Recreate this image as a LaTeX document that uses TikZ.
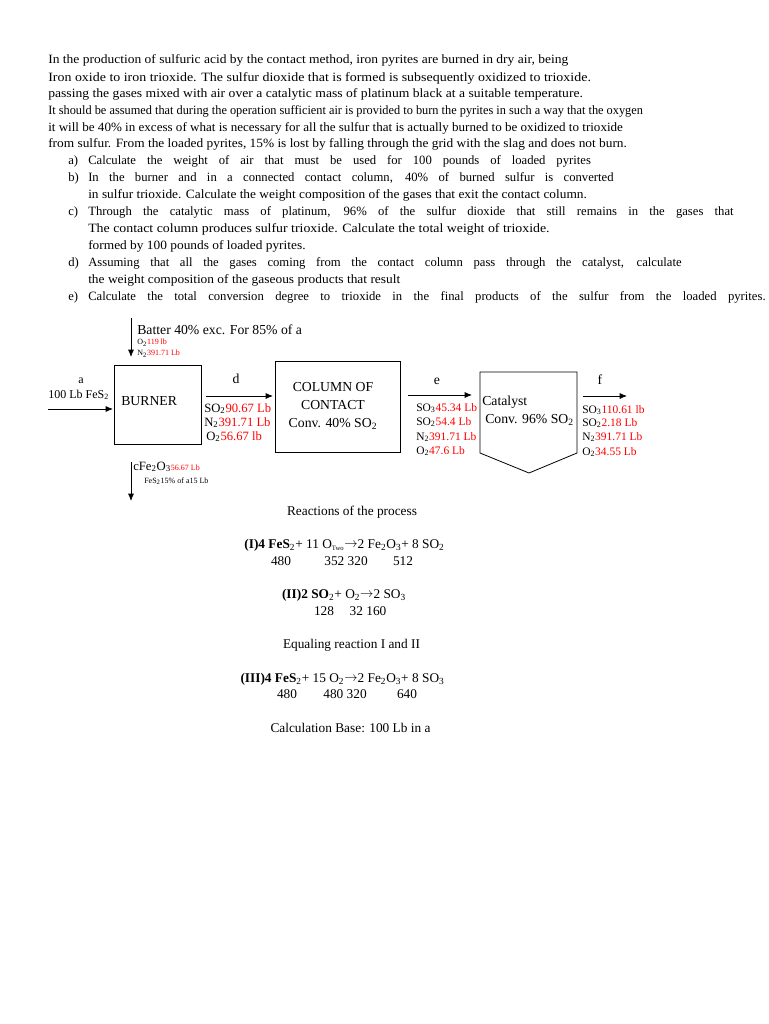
\documentclass[tikz,border=0pt]{standalone}
\usepackage{fontspec}
\setmainfont{Liberation Serif}
\usepackage{graphicx}
\usetikzlibrary{arrows.meta}
\newcommand\sub[1]{\textsubscript{#1}}
\newcommand\rd[1]{\textcolor{red}{#1}}
\newcommand\rarr{\raisebox{0.1ex}{$\rightarrow$}}
\newcommand\pfont{\fontsize{9.5}{11}\selectfont}
\newcommand\dfont{\fontsize{10.3}{12}\selectfont}
\newcommand\rfont{\fontsize{10}{12}\selectfont}
\newcommand\lfont{\fontsize{9.5}{11}\selectfont}
\newcommand\efont{\fontsize{8.6}{10}\selectfont}
\newcommand\afont{\fontsize{9}{10}\selectfont}
\newcommand\tfont{\fontsize{6}{7}\selectfont}
\begin{document}
\begin{tikzpicture}[x=0.75pt,y=-0.75pt,
  txt/.style={anchor=base west,inner sep=0pt,font=\pfont},
  dtxt/.style={anchor=base west,inner sep=0pt,font=\dfont},
  ltxt/.style={anchor=base west,inner sep=0pt,font=\lfont},
  etxt/.style={anchor=base west,inner sep=0pt,font=\efont},
  ctxt/.style={anchor=base,inner sep=0pt,font=\dfont},
  rtxt/.style={anchor=base,inner sep=0pt,font=\rfont},
  ttxt/.style={anchor=base west,inner sep=0pt,font=\tfont},
  flow/.style={-{Latex[length=5.5pt,width=4.5pt]},line width=0.6pt},
  box/.style={draw,line width=0.6pt,inner sep=0pt}]
\useasboundingbox (0,0) rectangle (768,1024);
\fill[white] (0,0) rectangle (768,1024);
% problem text
\node[txt] (l1) at (48,64) {\resizebox{390pt}{\height}{In the production of sulfuric acid by the contact method, iron pyrites are burned in dry air, being}};
\node[txt] (l2) at (48,81) {\resizebox{407pt}{\height}{Iron oxide to iron trioxide. The sulfur dioxide that is formed is subsequently oxidized to trioxide.}};
\node[txt] (l3) at (48,98) {\resizebox{401pt}{\height}{passing the gases mixed with air over a catalytic mass of platinum black at a suitable temperature.}};
\node[txt] (l4) at (48,114) {\resizebox{446pt}{\height}{It should be assumed that during the operation sufficient air is provided to burn the pyrites in such a way that the oxygen}};
\node[txt] (l5) at (48,131) {\resizebox{431pt}{\height}{it will be 40\% in excess of what is necessary for all the sulfur that is actually burned to be oxidized to trioxide}};
\node[txt] (l6) at (48,147) {\resizebox{434pt}{\height}{from sulfur. From the loaded pyrites, 15\% is lost by falling through the grid with the slag and does not burn.}};
\node[txt] (ia) at (68,164) {a)};
\node[txt] (l7) at (88,164) {\makebox[377pt][s]{Calculate the weight of air that must be used for 100 pounds of loaded pyrites}};
\node[txt] (ib) at (68,181) {b)};
\node[txt] (l8) at (88,181) {\makebox[394pt][s]{In the burner and in a connected contact column, 40\% of burned sulfur is converted}};
\node[txt] (l9) at (88,198) {\resizebox{374pt}{\height}{in sulfur trioxide. Calculate the weight composition of the gases that exit the contact column.}};
\node[txt] (ic) at (68,215) {c)};
\node[txt] (l10) at (88,215) {\makebox[484pt][s]{Through the catalytic mass of platinum, 96\% of the sulfur dioxide that still remains in the gases that}};
\node[txt] (l11) at (88,232) {\resizebox{346pt}{\height}{The contact column produces sulfur trioxide. Calculate the total weight of trioxide.}};
\node[txt] (l12) at (88,249) {\resizebox{163pt}{\height}{formed by 100 pounds of loaded pyrites.}};
\node[txt] (id) at (68,266) {d)};
\node[txt] (l13) at (88,266) {\makebox[445pt][s]{Assuming that all the gases coming from the contact column pass through the catalyst, calculate}};
\node[txt] (l14) at (88,283) {\resizebox{234pt}{\height}{the weight composition of the gaseous products that result}};
\node[txt] (ie) at (68,300) {e)};
\node[txt] (l15) at (88,300) {\makebox[508pt][s]{Calculate the total conversion degree to trioxide in the final products of the sulfur from the loaded pyrites.}};
% ---------- diagram ----------
% air feed
\coordinate (airA) at (131,318);
\coordinate (airB) at (131,357);
\draw[flow] (airA) -- (airB);
\node[dtxt] (air1) at (137,334) {Batter 40\% exc. For 85\% of a};
\node[ttxt] (air2) at (137,344.5) {O\sub{2}\rd{119 lb}};
\node[ttxt] (air3) at (137,355.5) {N\sub{2}\rd{391.71 Lb}};
% feed a
\coordinate (aA) at (48,409);
\coordinate (aB) at (113,409);
\draw[flow] (aA) -- (aB);
\node[anchor=base,inner sep=0pt,font=\afont] (alab) at (81,383) {a};
\node[anchor=base west,inner sep=0pt,font=\afont] (afeed) at (48,398) {100 Lb FeS\sub{2}};
% burner
\node[box,minimum width=65.25pt,minimum height=59.25pt] (burner) at (157.5,404.5) {};
\node[dtxt] (burnertxt) at (121,405) {BURNER};
% stream d
\coordinate (dA) at (206,396);
\coordinate (dB) at (273,396);
\draw[flow] (dA) -- (dB);
\node[ctxt] (dlab) at (236,383) {d};
\node[ltxt] (d1) at (204,412) {SO\sub{2}\rd{90.67 Lb}};
\node[ltxt] (d2) at (204,426) {N\sub{2}\rd{391.71 Lb}};
\node[ltxt] (d3) at (206,440) {O\sub{2}\rd{56.67 lb}};
% column
\node[box,minimum width=93.75pt,minimum height=68.25pt] (column) at (337.5,406.5) {};
\node[ctxt] (col1) at (333,391) {COLUMN OF};
\node[ctxt] (col2) at (333,409) {CONTACT};
\node[ctxt] (col3) at (333,427) {Conv. 40\% SO\sub{2}};
% stream e
\coordinate (eA) at (408,395);
\coordinate (eB) at (472,395);
\draw[flow] (eA) -- (eB);
\node[ctxt] (elab) at (437,384) {e};
\node[etxt] (e1) at (416,411) {SO\sub{3}\rd{45.34 Lb}};
\node[etxt] (e2) at (416,425) {SO\sub{2}\rd{54.4 Lb}};
\node[etxt] (e3) at (416,440) {N\sub{2}\rd{391.71 Lb}};
\node[etxt] (e4) at (416,454) {O\sub{2}\rd{47.6 Lb}};
% catalyst
\draw[line width=0.6pt] (480,372) -- (577,372) -- (577,453) -- (529,473) -- (480,453) -- cycle;
\node[dtxt] (cat1) at (482,405) {Catalyst};
\node[dtxt] (cat2) at (485,423) {Conv. 96\% SO\sub{2}};
% stream f
\coordinate (fA) at (583,396);
\coordinate (fB) at (627,396);
\draw[flow] (fA) -- (fB);
\node[ctxt] (flab) at (600,384) {f};
\node[etxt] (f1) at (582,413) {SO\sub{3}\rd{110.61 lb}};
\node[etxt] (f2) at (582,426) {SO\sub{2}\rd{2.18 Lb}};
\node[etxt] (f3) at (582,440) {N\sub{2}\rd{391.71 Lb}};
\node[etxt] (f4) at (582,455) {O\sub{2}\rd{34.55 Lb}};
% slag c
\coordinate (cA) at (131,462);
\coordinate (cB) at (131,501);
\draw[flow] (cA) -- (cB);
\node[ltxt] (c1) at (133,470) {cFe\sub{2}O\sub{3}{\tfont\rd{56.67 Lb}}};
\node[ttxt] (c2) at (144,483) {FeS\sub{2}15\% of a15 Lb};
% ---------- reactions ----------
\node[rtxt] (r0) at (352,515) {Reactions of the process};
\node[rtxt] (r1) at (344.5,548) {\textbf{(I)4 FeS}\sub{2}+ 11 O\sub{\tiny Two}\rarr 2 Fe\sub{2}O\sub{3}+ 8 SO\sub{2}};
\node[rtxt] (r1a) at (281,565) {480};
\node[rtxt] (r1b) at (346,565) {352 320};
\node[rtxt] (r1c) at (403,565) {512};
\node[rtxt] (r2) at (344,598) {\textbf{(II)2 SO}\sub{2}+ O\sub{2}\rarr 2 SO\sub{3}};
\node[rtxt] (r2a) at (324,615) {128};
\node[rtxt] (r2b) at (368,615) {32 160};
\node[rtxt] (r3) at (351.5,648) {Equaling reaction I and II};
\node[rtxt] (r4) at (342.5,682) {\textbf{(III)4 FeS}\sub{2}+ 15 O\sub{2}\rarr 2 Fe\sub{2}O\sub{3}+ 8 SO\sub{3}};
\node[rtxt] (r4a) at (287,698) {480};
\node[rtxt] (r4b) at (345,698) {480 320};
\node[rtxt] (r4c) at (407,698) {640};
\node[rtxt] (r5) at (350.5,732) {Calculation Base: 100 Lb in a};
\end{tikzpicture}
\end{document}
